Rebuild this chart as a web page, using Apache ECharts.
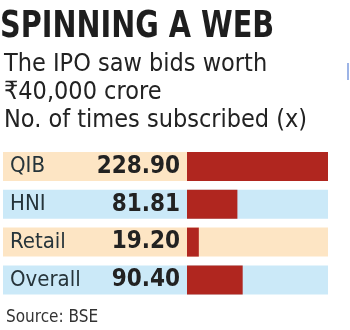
<!DOCTYPE html>
<html><head><meta charset="utf-8">
<script src="https://cdn.jsdelivr.net/npm/echarts@6/dist/echarts.min.js"></script>
<style>html,body{margin:0;padding:0;background:#fff}#c{width:350px;height:330px}</style>
</head><body><div id="c"></div>
<script>
const categories = ['QIB', 'HNI', 'Retail', 'Overall'];
const subscribed = [228.90, 81.81, 19.20, 90.40];
const bandColors = ['#FDE5C4', '#CBE9F8', '#FDE5C4', '#CBE9F8'];
const titleText = 'SPINNING A WEB';
const subLines = ['The IPO saw bids worth', '\u20B940,000 crore', 'No. of times subscribed (x)'];
const sourceText = 'Source: BSE';

const FONT = '"DejaVu Sans Condensed", "DejaVu Sans", sans-serif';
const chart = echarts.init(document.getElementById('c'), null, {renderer: 'canvas'});
const gridTop = 147.6, gridBottom = 31.2;
chart.setOption({
  animation: false,
  backgroundColor: '#ffffff',
  title: [
    {text: subLines.join('\n'), left: -1, top: 45, textStyle: {fontFamily: FONT, fontWeight: 'normal', fontSize: 25, color: '#222', lineHeight: 28}},
    {text: sourceText, left: 1, top: 304, textStyle: {fontFamily: FONT, fontWeight: 'normal', fontSize: 17, color: '#333'}}
  ],
  grid: [
    {left: 3, right: 22, top: gridTop, bottom: gridBottom},
    {left: 187, right: 22, top: gridTop, bottom: gridBottom}
  ],
  xAxis: [
    {gridIndex: 0, type: 'value', min: 0, max: 1, show: false},
    {gridIndex: 1, type: 'value', min: 0, max: 228.9, show: false}
  ],
  yAxis: [
    {gridIndex: 0, type: 'category', data: categories, inverse: true, show: false},
    {gridIndex: 1, type: 'category', data: categories, inverse: true, show: false}
  ],
  series: [
    {
      type: 'bar', xAxisIndex: 0, yAxisIndex: 0, barWidth: 29, silent: true,
      data: categories.map((c, i) => ({value: 1, itemStyle: {color: bandColors[i]}})),
      label: {show: true, position: 'insideLeft', distance: 7, formatter: '{b}', fontFamily: FONT, fontSize: 22, color: '#26343a'}
    },
    {
      type: 'bar', xAxisIndex: 1, yAxisIndex: 1, barWidth: 29, silent: true,
      data: subscribed, itemStyle: {color: '#B0261F'},
      label: {show: true, position: 'left', distance: 7, formatter: p => p.value.toFixed(2), fontFamily: FONT, fontWeight: 'bold', fontSize: 24, color: '#222'}
    }
  ],
  graphic: [
    {type: 'text', x: 0, y: 8, scaleX: 0.84, silent: true,
     style: {text: titleText, font: 'bold 38px "DejaVu Sans Condensed", "DejaVu Sans", sans-serif', fill: '#1e1e1e', textVerticalAlign: 'top'}},
    {type: 'rect', left: 347, top: 63, shape: {width: 2, height: 17}, style: {fill: '#9db4e6'}, silent: true}
  ]
});
</script></body></html>
